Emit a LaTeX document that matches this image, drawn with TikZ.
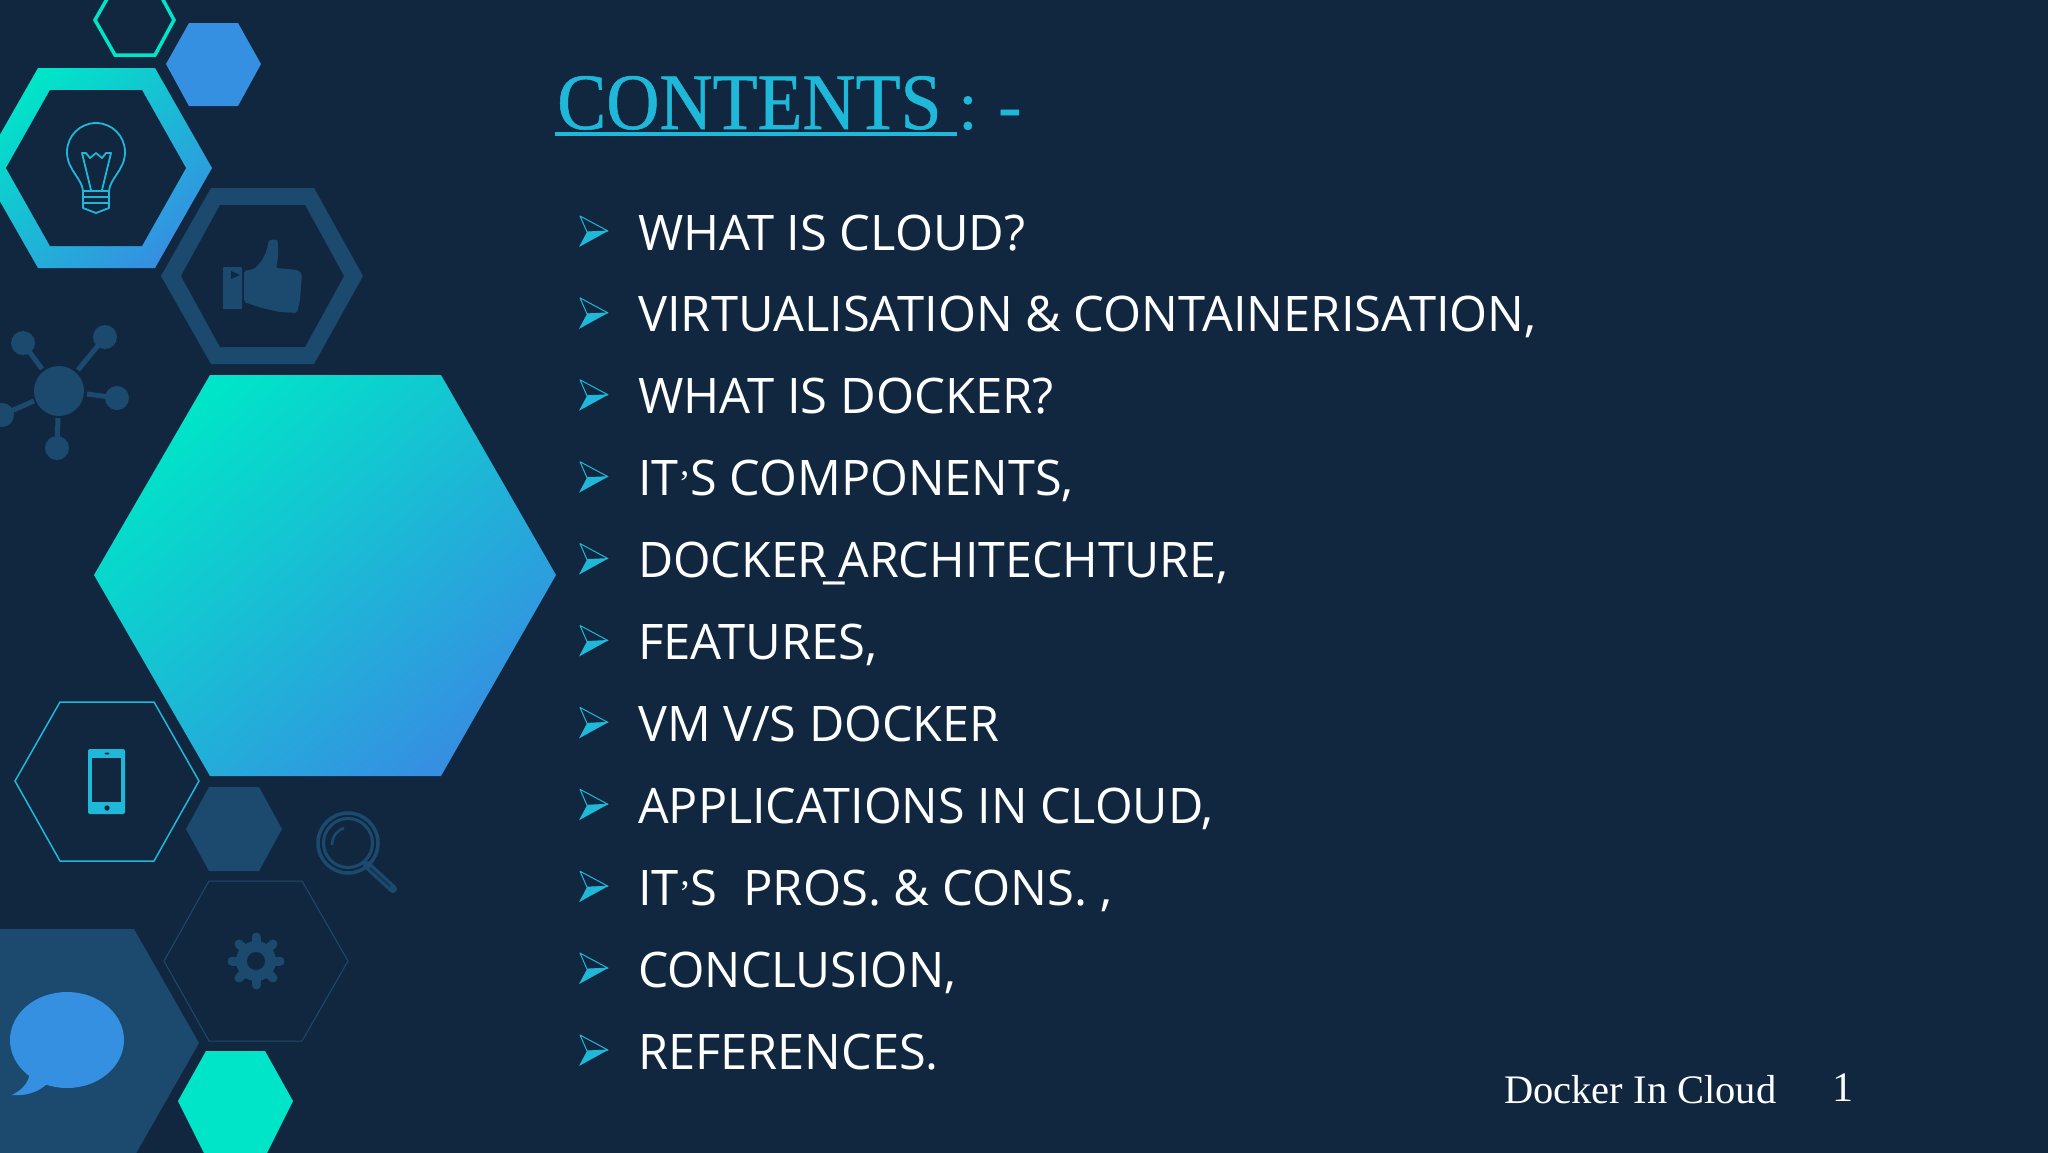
\documentclass[tikz,border=0pt]{standalone}
\usepackage{fontspec}
\setmainfont{Open Sans}
\newfontfamily\titlefont{Liberation Serif}
\newfontfamily\titleheavy[FakeBold=0.7]{Liberation Serif}
\usetikzlibrary{calc}
\definecolor{bgc}{HTML}{11273F}
\definecolor{teal}{HTML}{00E5C8}
\definecolor{cyanc}{HTML}{1FB8D8}
\definecolor{bluec}{HTML}{3590E2}
\definecolor{navyc}{HTML}{1B4A6E}
\tikzset{
  gradfill/.style={left color=teal,middle color=cyanc,right color=bluec,shading angle=40},
  item/.style={anchor=base west,text=white,inner sep=0pt,font=\fontsize{49}{54}\selectfont},
  bulbline/.style={draw=cyanc,line width=1.8pt,line join=round},
}
\newcommand{\listarrow}[1]{%
  \fill[cyanc] (579,#1+16) -- (608,#1) -- (587,#1+1) -- cycle;
  \draw[cyanc,line width=1pt,line join=round] (580,#1-15) -- (608,#1) -- (587,#1+1) -- cycle;
}
\begin{document}
\begin{tikzpicture}[x=1pt,y=-1pt]
\useasboundingbox (0,0) rectangle (2048,1152);
\fill[bgc] (-5,-5) rectangle (2053,1157);
\clip (-5,-5) rectangle (2053,1157);

% top outlined hexagon
\draw[teal,line width=3.5pt,line join=miter] (95,20) -- (115,-15) -- (155,-15) -- (174,20) -- (155,55) -- (115,55) -- cycle;
% blue hexagon
\fill[bluec] (166,64) -- (189,23) -- (238,23) -- (261,64) -- (238,106) -- (189,106) -- cycle;

% bulb hexagon
\path[gradfill] (-19,168) -- (38,68) -- (155,68) -- (212,168) -- (155,268) -- (38,268) -- cycle;
\fill[bgc] (6,168) -- (50,90) -- (142,90) -- (186,168) -- (142,246) -- (50,246) -- cycle;
% bulb
\draw[bulbline] (83,191) .. controls (82,178) and (67,170) .. (67,152)
  .. controls (67,136) and (80,123) .. (96,123)
  .. controls (112,123) and (125,136) .. (125,152)
  .. controls (125,170) and (110,178) .. (109,191) -- cycle;
\draw[bulbline] (91,190) -- (82,153) -- (86,153) -- (90,158) -- (96,153) -- (102,158) -- (106,153) -- (111,153) -- (102,190);
\draw[bulbline] (83,191) -- (83,208) -- (96,213) -- (109,208) -- (109,191);
\draw[bulbline] (83,197) -- (109,197) (83,203) -- (109,203);

% thumb hexagon
\fill[navyc] (161,276) -- (211,188) -- (314,188) -- (363,276) -- (314,364) -- (211,364) -- cycle;
\fill[bgc] (181,276) -- (220,205) -- (305,205) -- (344,276) -- (305,347) -- (220,347) -- cycle;
\fill[navyc,rounded corners=1pt] (223,267) rectangle (242,309);
\fill[bgc] (231,271) -- (240,275) -- (231,279) -- cycle;
\fill[navyc,rounded corners=2pt] (244,271) -- (254,269) .. controls (262,262) and (267,252) .. (268,243)
  .. controls (270,239) and (277,239) .. (278,243) -- (278,258) -- (276,268) -- (298,270) -- (302,274)
  -- (300,300) -- (297,313) -- (280,312) -- (262,308) -- (244,302) -- cycle;

% network icon
\fill[navyc] (59,391) circle[radius=25];
\foreach \sx/\sy/\ex/\ey in {23/343/42/369, 105/337/78/370, 117/398/87/394, 2/415/34/401, 57/448/58/418}{
  \fill[navyc] (\sx,\sy) circle[radius=12];
  \draw[navyc,line width=5pt] (\sx,\sy) -- (\ex,\ey);
}

% large hexagon
\path[gradfill] (94,575) -- (210,375) -- (441,375) -- (556,575) -- (441,776) -- (210,776) -- cycle;

% phone hexagon
\draw[cyanc,line width=1.5pt] (15,781) -- (60,702) -- (154,702) -- (199,781) -- (154,861) -- (60,861) -- cycle;
\fill[cyanc,rounded corners=2pt] (88,749) rectangle (125,814);
\fill[bgc] (92,758) rectangle (121,802);
\fill[bgc] (107,808) circle[radius=2.7];
\fill[bgc] (107,753.5) ellipse[x radius=2.5,y radius=1];

% small navy hexagon
\fill[navyc] (186,829) -- (209,787) -- (259,787) -- (282,829) -- (259,871) -- (209,871) -- cycle;

% magnifier
\draw[navyc,line width=3.5pt] (348,843) circle[radius=30];
\draw[navyc,line width=3pt] (348,843) circle[radius=24.5];
\draw[navyc,line width=2.5pt] (332,845) .. controls (332,837) and (337,830) .. (344,828);
\draw[navyc,line width=8pt,line cap=round] (367,865) -- (393,889);
\draw[bgc!60!navyc,line width=2pt,line cap=round] (370,868) -- (390,886);

% gear hexagon
\draw[navyc,line width=1pt] (164,961) -- (209,881) -- (302,881) -- (348,961) -- (302,1041) -- (209,1041) -- cycle;
\fill[navyc] (256,961) circle[radius=20];
\foreach \a in {0,45,...,315}{
  \draw[navyc,line width=9pt,line cap=round] (256,961) -- ++(\a:24);
}
\fill[bgc] (256,961) circle[radius=9];

% speech hexagon
\fill[navyc] (-50,929) -- (134,929) -- (199,1043) -- (134,1157) -- (-50,1157) -- cycle;
\fill[bluec] (67,1040) ellipse[x radius=57,y radius=48];
\fill[bluec] (30,1070) .. controls (30,1082) and (22,1090) .. (12,1095)
  .. controls (25,1096) and (38,1093) .. (48,1083) -- cycle;

% teal hexagon
\fill[teal] (178,1101) -- (206,1051) -- (265,1051) -- (293,1101) -- (265,1157) -- (206,1157) -- cycle;

% title
\node[anchor=base west,inner sep=0pt,text=cyanc] (title) at (557,129)
  {\titleheavy\fontsize{80}{90}\selectfont\scalebox{0.92}[1]{CONTENTS}};
\node[anchor=base west,inner sep=0pt,text=cyanc] (titlecolon) at (958,129)
  {\titleheavy\fontsize{70}{80}\selectfont :};
\node[anchor=base west,inner sep=0pt,text=cyanc] (titledash) at (998,129)
  {\titleheavy\fontsize{70}{80}\selectfont -};
\coordinate (ula) at (555,134);
\coordinate (ulb) at (957,134);
\draw[cyanc,line width=4pt] (ula) -- (ulb);

% list
\foreach \s/\i [count=\n from 0] in {%
  0.997/{WHAT IS CLOUD?},
  0.997/{VIRTUALISATION \& CONTAINERISATION,},
  1/{WHAT IS DOCKER?},
  0.991/{IT{\titlefont\fontsize{36}{40}\selectfont ’}S COMPONENTS,},
  0.985/{DOCKER\kern-4pt\_\kern-7pt ARCHITECHTURE,},
  1/{FEATURES,},
  0.989/{VM V/S DOCKER},
  0.989/{APPLICATIONS IN CLOUD,},
  1/{IT{\titlefont\fontsize{36}{40}\selectfont ’}S\ \ PROS. \& CONS. ,},
  0.98/{CONCLUSION,},
  0.993/{REFERENCES.}}{
  \pgfmathsetmacro{\yb}{250+81.9*\n}
  \pgfmathsetmacro{\ya}{\yb-19}
  \listarrow{\ya}
  \node[item] (item\n) at (638,\yb) {\scalebox{\s}[1]{\i}};
}

% footer
\node[anchor=base west,inner sep=0pt,text=white] (footer) at (1504,1103)
  {\titlefont\fontsize{40.5}{46}\selectfont Docker In Cloud};
\node[anchor=base west,inner sep=0pt,text=white] (pageno) at (1832,1101)
  {\titlefont\fontsize{42}{46}\selectfont 1};
\end{tikzpicture}
\end{document}
